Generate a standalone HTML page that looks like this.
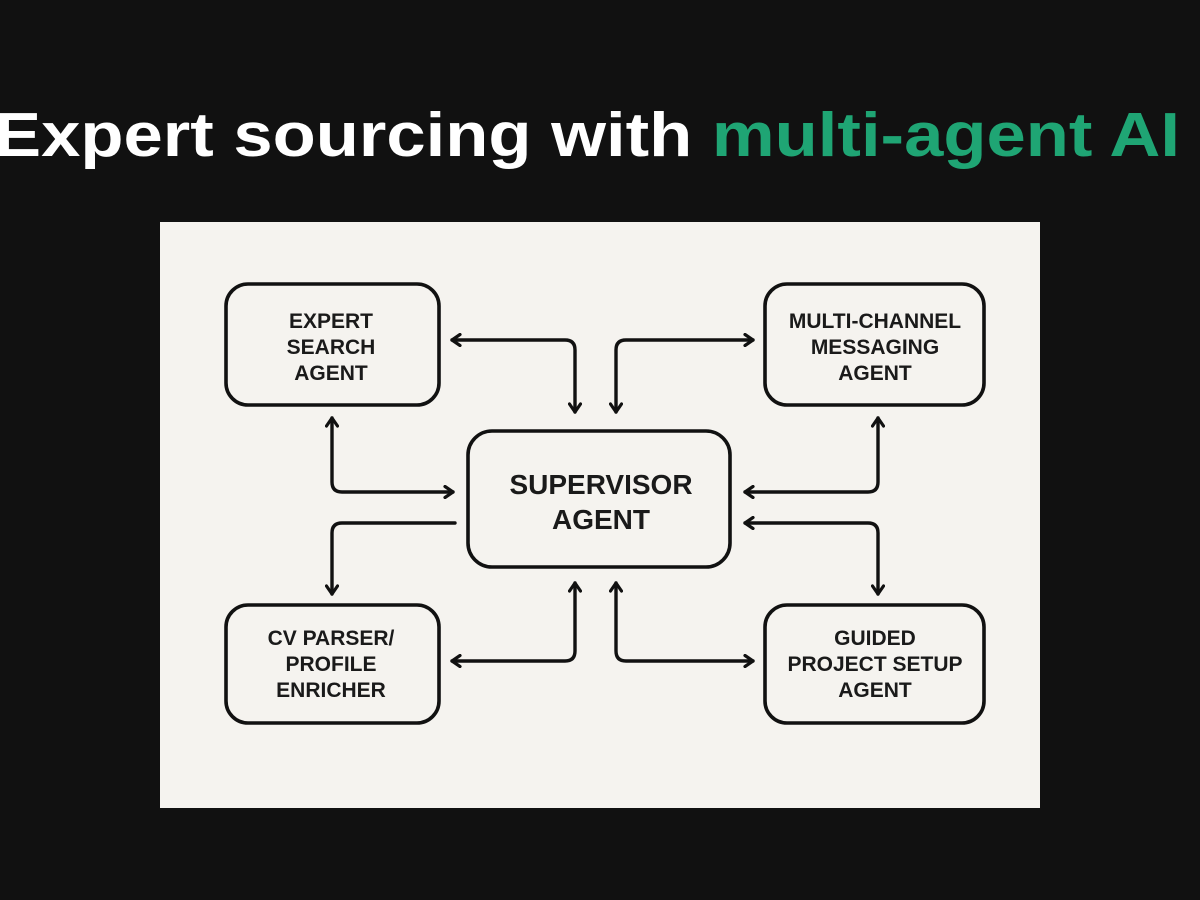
<!DOCTYPE html>
<html><head><meta charset="utf-8"><style>
html,body{margin:0;padding:0;background:#111111;width:1200px;height:900px;overflow:hidden}
</style></head><body>
<svg width="1200" height="900" viewBox="0 0 1200 900" xmlns="http://www.w3.org/2000/svg">
<rect width="1200" height="900" fill="#111111"/>
<text x="-6" y="156" font-family="Liberation Sans, sans-serif" font-weight="bold" font-size="62" fill="#ffffff" textLength="1186" lengthAdjust="spacingAndGlyphs">Expert sourcing with <tspan fill="#1fa574">multi-agent AI</tspan></text>
<rect x="160" y="222" width="880" height="586" fill="#f5f3ef"/>
<defs>
<marker id="a" viewBox="0 0 14 14" refX="11" refY="7" markerWidth="14" markerHeight="14" markerUnits="userSpaceOnUse" orient="auto-start-reverse">
<path d="M3,1.5 L11,7 L3,12.5" fill="none" stroke="#111" stroke-width="3.2" stroke-linecap="round" stroke-linejoin="round"/>
</marker>
</defs>
<g fill="none" stroke="#111" stroke-width="3.6">
<rect x="226" y="284" width="213" height="121" rx="22"/>
<rect x="765" y="284" width="219" height="121" rx="22"/>
<rect x="468" y="431" width="262" height="136" rx="24"/>
<rect x="226" y="605" width="213" height="118" rx="22"/>
<rect x="765" y="605" width="219" height="118" rx="22"/>
</g>
<g fill="none" stroke="#111" stroke-width="3.4" stroke-linecap="round" stroke-linejoin="round" marker-start="url(#a)" marker-end="url(#a)">
<path d="M452,340 H565 Q575,340 575,350 V412"/>
<path d="M753,340 H626 Q616,340 616,350 V412"/>
<path d="M332,418 V482 Q332,492 342,492 H453"/>
<path d="M452,661 H565 Q575,661 575,651 V583"/>
<path d="M753,661 H626 Q616,661 616,651 V583"/>
<path d="M745,492 H868 Q878,492 878,482 V418"/>
<path d="M745,523 H868 Q878,523 878,533 V594"/>
</g>
<path d="M455,523 H342 Q332,523 332,533 V594" fill="none" stroke="#111" stroke-width="3.4" stroke-linecap="round" stroke-linejoin="round" marker-end="url(#a)"/>
<g font-family="Liberation Sans, sans-serif" font-weight="bold" fill="#1a1a1a" text-anchor="middle" font-size="21">
<text x="331" y="328">EXPERT</text>
<text x="331" y="354">SEARCH</text>
<text x="331" y="380">AGENT</text>
<text x="875" y="328">MULTI-CHANNEL</text>
<text x="875" y="354">MESSAGING</text>
<text x="875" y="380">AGENT</text>
<text x="331" y="645">CV PARSER/</text>
<text x="331" y="671">PROFILE</text>
<text x="331" y="697">ENRICHER</text>
<text x="875" y="645">GUIDED</text>
<text x="875" y="671">PROJECT SETUP</text>
<text x="875" y="697">AGENT</text>
<text x="601" y="494" font-size="28">SUPERVISOR</text>
<text x="601" y="529" font-size="28">AGENT</text>
</g>
</svg>
</body></html>
